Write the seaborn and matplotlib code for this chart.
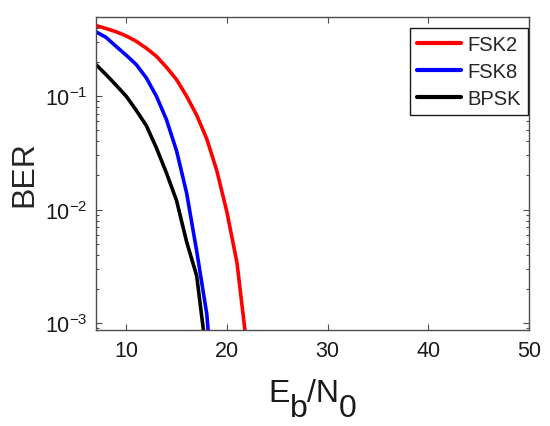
import numpy as np
import pandas as pd
import matplotlib
matplotlib.use("Agg")
import matplotlib.pyplot as plt
import seaborn as sns

# values
ebno_fsk2 = [7, 8, 9, 10, 11, 12, 13, 14, 15, 16, 17, 18, 19, 20, 21, 22]
ber_fsk2 = [0.42, 0.395, 0.37, 0.34, 0.305, 0.265, 0.225, 0.18, 0.14, 0.10,
            0.068, 0.042, 0.022, 0.0095, 0.0034, 0.0006]

ebno_fsk8 = [7, 8, 9, 10, 11, 12, 13, 14, 15, 16, 17, 18, 19]
ber_fsk8 = [0.37, 0.33, 0.275, 0.23, 0.19, 0.145, 0.10, 0.062, 0.033,
            0.014, 0.0043, 0.0012, 0.0001]

ebno_bpsk = [7, 8, 9, 10, 11, 12, 13, 14, 15, 16, 17, 18]
ber_bpsk = [0.19, 0.155, 0.125, 0.10, 0.075, 0.055, 0.035, 0.021, 0.012,
            0.0052, 0.0026, 0.0005]

df = pd.concat([
    pd.DataFrame({'EbN0': ebno_fsk2, 'BER': ber_fsk2, 'Scheme': 'FSK2'}),
    pd.DataFrame({'EbN0': ebno_fsk8, 'BER': ber_fsk8, 'Scheme': 'FSK8'}),
    pd.DataFrame({'EbN0': ebno_bpsk, 'BER': ber_bpsk, 'Scheme': 'BPSK'}),
], ignore_index=True)

sns.set_style("white")
plt.rcParams['font.family'] = ['Liberation Sans', 'DejaVu Sans']
plt.rcParams['mathtext.fontset'] = 'custom'
plt.rcParams['mathtext.rm'] = 'Liberation Sans'
plt.rcParams['mathtext.it'] = 'Liberation Sans'
plt.rcParams['mathtext.default'] = 'regular'

fig = plt.figure(figsize=(5.5, 4.27), dpi=100)
ax = fig.add_axes([0.1745, 0.2248, 0.7875, 0.7332])

palette = {'FSK2': '#ff0000', 'FSK8': '#0000ff', 'BPSK': '#000000'}
sns.lineplot(data=df, x='EbN0', y='BER', hue='Scheme', palette=palette,
             linewidth=2.6, ax=ax, sort=False, estimator=None)

ax.set_yscale('log')
ax.set_xlim(7, 50)
ax.set_ylim(8.67e-4, 0.5)
ax.set_xticks([10, 20, 30, 40, 50])

edge = '#4d4d4d'
for s in ax.spines.values():
    s.set_color(edge)
    s.set_linewidth(1.0)
ax.tick_params(which='both', direction='in', bottom=True, left=True,
               top=True, right=True, color=edge, width=0.8,
               labelsize=15.5, labelcolor='#1a1a1a')
ax.tick_params(which='major', length=4)
ax.tick_params(which='minor', length=2.5)
ax.tick_params(axis='x', pad=7)
ax.tick_params(axis='y', pad=6)

ax.set_xlabel('')
ax.set_ylabel('BER', fontsize=23, labelpad=4)

# x label drawn piece by piece: MATLAB keeps subscripts at full size
pieces = [('E', 0), ('b', 1), ('/N', 0), ('0', 1)]
fs = 23
base_y = 427 - 402   # baseline of main text, pixels from bottom
drop = 15            # subscript drop, pixels
fig.canvas.draw()
renderer = fig.canvas.get_renderer()
texts = []
widths = []
for s, sub in pieces:
    t = fig.text(0, 0, s, fontsize=fs, color='#1a1a1a', va='baseline',
                 ha='left', transform=None)
    texts.append(t)
    widths.append(t.get_window_extent(renderer).width)
total = sum(widths)
bb = ax.get_window_extent(renderer)
x = (bb.x0 + bb.x1) / 2 - total / 2
for t, w, (s, sub) in zip(texts, widths, pieces):
    t.set_position((x, base_y - drop * sub))
    x += w

leg = ax.legend(loc='upper right', bbox_to_anchor=(0.9965, 0.965),
                borderaxespad=0, fontsize=14.5, handlelength=2.2,
                handletextpad=0.3, labelspacing=0.4, borderpad=0.35,
                fancybox=False, framealpha=1)
leg.get_frame().set_edgecolor('#1a1a1a')
leg.get_frame().set_linewidth(1.0)
for line in leg.get_lines():
    line.set_linewidth(3)

fig.savefig('out.png', dpi=100)
